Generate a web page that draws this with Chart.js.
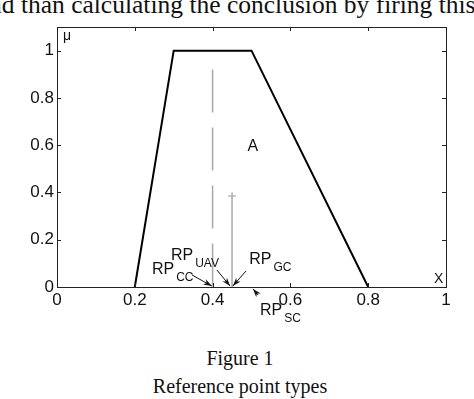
<!DOCTYPE html>
<html lang="en">
<head>
<meta charset="UTF-8">
<title>Reference point types</title>
<script src="https://cdn.jsdelivr.net/npm/chart.js"></script>
<style>
  body { margin: 0; background: #fff; width: 474px; height: 399px; overflow: hidden; position: relative; }
  #chart { position: absolute; left: 0; top: 0; }
  .serif { position: absolute; font-family: "Liberation Serif", "Times New Roman", serif; color: #111; white-space: nowrap; line-height: 1; }
  #bodyText { left: -11px; top: -8px; font-size: 25.5px; }
  .caption { left: 0; width: 480px; text-align: center; font-size: 20px; }
</style>
</head>
<body>
<div id="bodyText" class="serif">nd than calculating the conclusion by firing this</div>
<canvas id="chart" width="474" height="330"></canvas>
<div class="serif caption" style="top:348px">Figure 1</div>
<div class="serif caption" style="top:376px">Reference point types</div>

<script>
// membership function A (trapezoid)
const muX = [0.2, 0.3, 0.5, 0.8];
const muY = [0, 1, 1, 0];
// reference lines
const uavX = [0.4, 0.4];
const uavY = [0.92, 0];
const gcX = [0.45, 0.45];
const gcY = [0.40, 0];
const xTicks = [0, 0.2, 0.4, 0.6, 0.8, 1];
const yTicks = [0, 0.2, 0.4, 0.6, 0.8, 1];

// labels with arrows, in data units: [label, sub, textX, textY, fromX, fromY, toX, toY]
const arrows = [
  ['RP', 'CC', 0.244, 0.055, 0.347, 0.051, 0.398, 0.004],
  ['RP', 'UAV', 0.293, 0.114, 0.411, 0.072, 0.445, 0.004],
  ['RP', 'GC', 0.494, 0.097, 0.486, 0.068, 0.452, 0.004],
  ['RP', 'SC', 0.522, -0.119, 0.517, -0.034, 0.504, -0.008]
];

const sansFont = '"Liberation Sans", Arial, sans-serif';
const fmt = v => String(+(+v).toFixed(1));

const figurePlugin = {
  id: 'figure',
  afterDatasetsDraw(chart) {
    const { ctx, chartArea: a, scales: { x, y } } = chart;
    ctx.save();
    // box and inward ticks
    ctx.strokeStyle = '#222';
    ctx.lineWidth = 1;
    ctx.strokeRect(a.left + 0.5, a.top + 0.5, a.right - a.left, a.bottom - a.top);
    ctx.beginPath();
    xTicks.forEach(v => {
      const px = Math.round(x.getPixelForValue(v)) + 0.5;
      ctx.moveTo(px, a.bottom); ctx.lineTo(px, a.bottom - 4);
      ctx.moveTo(px, a.top); ctx.lineTo(px, a.top + 4);
    });
    yTicks.forEach(v => {
      const py = Math.round(y.getPixelForValue(v)) + 0.5;
      ctx.moveTo(a.left, py); ctx.lineTo(a.left + 4, py);
      ctx.moveTo(a.right, py); ctx.lineTo(a.right - 4, py);
    });
    ctx.stroke();

    ctx.fillStyle = '#111';
    ctx.textBaseline = 'alphabetic';
    ctx.font = '14px ' + sansFont;
    ctx.fillText('\u03bc', a.left + 6, a.top + 13);
    ctx.fillText('X', a.right - 12, a.bottom - 4);
    ctx.font = '16px ' + sansFont;
    ctx.fillText('A', x.getPixelForValue(0.49), y.getPixelForValue(0.575));

    // arrows and RP labels
    arrows.forEach(([lab, sub, tx, ty, fx, fy, ax, ay]) => {
      const x0 = x.getPixelForValue(fx), y0 = y.getPixelForValue(fy);
      const x1 = x.getPixelForValue(ax), y1 = y.getPixelForValue(ay);
      ctx.strokeStyle = '#111';
      ctx.lineWidth = 1;
      ctx.beginPath(); ctx.moveTo(x0, y0); ctx.lineTo(x1, y1); ctx.stroke();
      const ang = Math.atan2(y1 - y0, x1 - x0);
      ctx.beginPath();
      ctx.moveTo(x1, y1);
      ctx.lineTo(x1 - 9 * Math.cos(ang - 0.33), y1 - 9 * Math.sin(ang - 0.33));
      ctx.lineTo(x1 - 6 * Math.cos(ang), y1 - 6 * Math.sin(ang));
      ctx.lineTo(x1 - 9 * Math.cos(ang + 0.33), y1 - 9 * Math.sin(ang + 0.33));
      ctx.closePath();
      ctx.fill();

      const px = x.getPixelForValue(tx), py = y.getPixelForValue(ty);
      ctx.font = '16px ' + sansFont;
      ctx.fillText(lab, px, py);
      const w = ctx.measureText(lab).width;
      ctx.font = '12px ' + sansFont;
      ctx.fillText(sub, px + w + 2, py + 7);
    });
    ctx.restore();
  }
};

new Chart(document.getElementById('chart'), {
  type: 'scatter',
  data: {
    datasets: [
      {
        data: muX.map((v, i) => ({ x: v, y: muY[i] })),
        showLine: true, borderColor: '#000', borderWidth: 2, pointRadius: 0, clip: false
      },
      {
        data: uavX.map((v, i) => ({ x: v, y: uavY[i] })),
        showLine: true, borderColor: '#a8a8a8', borderWidth: 1.5, borderDash: [43, 15], pointRadius: 0
      },
      {
        data: gcX.map((v, i) => ({ x: v, y: gcY[i] })),
        showLine: true, borderColor: '#a8a8a8', borderWidth: 1.5, pointRadius: 0
      },
      {
        data: [{ x: gcX[0], y: 0.385 }],
        pointStyle: 'line', pointRadius: 4, borderColor: '#999', borderWidth: 1
      }
    ]
  },
  options: {
    responsive: false,
    animation: false,
    layout: { padding: { left: 0, right: 28, top: 27, bottom: 0 } },
    plugins: { legend: { display: false }, tooltip: { enabled: false } },
    scales: {
      x: {
        type: 'linear', min: 0, max: 1,
        grid: { display: false, drawTicks: false }, border: { display: false },
        afterBuildTicks: s => { s.ticks = xTicks.map(v => ({ value: v })); },
        afterFit: s => { s.height = 43; },
        ticks: { padding: 3, color: '#111', font: { family: sansFont, size: 17 }, callback: fmt, maxRotation: 0 }
      },
      y: {
        type: 'linear', min: 0, max: 1.1,
        grid: { display: false, drawTicks: false }, border: { display: false },
        afterBuildTicks: s => { s.ticks = yTicks.map(v => ({ value: v })); },
        afterFit: s => { s.width = 57; },
        ticks: { padding: 3, color: '#111', font: { family: sansFont, size: 17 }, callback: fmt }
      }
    }
  },
  plugins: [figurePlugin]
});
</script>
</body>
</html>
